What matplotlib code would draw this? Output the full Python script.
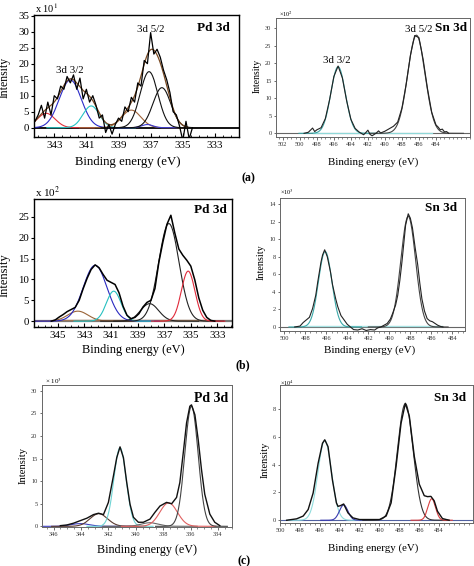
import numpy as np
import matplotlib.pyplot as plt
from matplotlib.ticker import MultipleLocator

plt.rcParams['font.family'] = ['Liberation Serif', 'DejaVu Serif']
plt.rcParams['mathtext.fontset'] = 'stix'

W, H = 474, 566

# ---------- (a) Pd 3d : raw counts (x10^1) ----------
pd_a_ev = [344.2, 344.0, 343.8, 343.6, 343.4, 343.2, 343.0, 342.8, 342.6, 342.4,
           342.2, 342.0, 341.8, 341.6, 341.4, 341.2, 341.0, 340.8, 340.6, 340.4,
           340.2, 340.0, 339.8, 339.6, 339.4, 339.2, 339.0, 338.8, 338.6, 338.4,
           338.2, 338.0, 337.8, 337.6, 337.4, 337.2, 337.0, 336.8, 336.6, 336.4,
           336.2, 336.0, 335.8, 335.6, 335.4, 335.2, 335.0, 334.8, 334.6, 334.4]
pd_a_int = [2, 4, 7, 3, 8, 4, 10, 9, 13, 12,
            16, 14, 16.5, 12, 15.5, 9, 12, 8, 10, 7,
            3, 4, -1.5, 1, -2, 1, 3, 2, 6.5, 5,
            9.5, 8, 14, 13, 21, 20, 29.7, 23, 24.5, 22,
            18, 15, 11, 5, 4, 0.5, -4, 2, -3.5, 0]
pd_a_centers = [343.5, 342.0, 340.7, 338.2, 337.2, 337.1, 336.3]
pd_a_heights = [4.5, 14.9, 6.8, 5.5, 1.0, 17.5, 12.5]
pd_a_fwhm = [1.3, 1.6, 1.2, 1.4, 0.8, 1.3, 1.3]
pd_a_xticks = [343, 341, 339, 337, 335, 333]
pd_a_yticks = [0, 5, 10, 15, 20, 25, 30, 35]

# ---------- (a) Sn 3d (x10^2) ----------
sn_a_ev = [499.5, 499.0, 498.75, 498.5, 498.25, 498.0, 497.5, 497.0, 496.5, 496.0,
           495.5, 495.0, 494.5, 494.0, 493.5, 493.0, 492.5, 492.25, 492.0, 491.75,
           491.5, 491.0, 490.75, 490.5, 490.0, 489.5, 489.0, 488.5, 488.0, 487.5,
           487.0, 486.5, 486.0, 485.5, 485.0, 484.5, 484.0, 483.75, 483.5, 483.25,
           483.0, 482.75, 482.5]
sn_a_int = [0, 0.3, 0.9, 1.5, 0.5, 1.0, 1.6, 4.2, 9.6, 16.2,
            19.2, 15.8, 9.3, 4.0, 1.4, 0.3, -0.4, 0.2, 0.9, -0.3,
            -0.7, 0.1, 0.7, 0.1, 0.6, 1.3, 2.0, 3.2, 7.2, 14.0,
            22.3, 27.9, 27.3, 21.0, 12.8, 6.0, 2.4, 1.8, 1.0, 1.2,
            0.4, 0.5, 0]
sn_a_centers = [495.5, 486.3]
sn_a_heights = [19.0, 28.0]
sn_a_fwhm = [2.0, 2.4]
sn_a_xticks = [502, 500, 498, 496, 494, 492, 490, 488, 486, 484]
sn_a_yticks = [0, 5, 10, 15, 20, 25, 30]

# ---------- (b) Pd 3d (x10^2) ----------
pd_b_ev = [345.5, 345.2, 344.9, 344.6, 344.3, 344.0, 343.7, 343.4, 343.1, 342.8,
           342.5, 342.2, 341.9, 341.6, 341.3, 341.0, 340.7, 340.4, 340.1, 339.8,
           339.5, 339.2, 338.9, 338.6, 338.3, 338.0, 337.7, 337.4, 337.1, 336.8,
           336.5, 336.2, 335.9, 335.6, 335.3, 335.0, 334.7, 334.4, 334.1, 333.8,
           333.5, 333.2]
pd_b_int = [0.0, 0.3, 1.0, 1.6, 2.3, 2.8, 3.3, 5.0, 7.8, 10.3,
            12.4, 13.5, 12.8, 11.2, 9.8, 9.3, 8.8, 6.8, 3.6, 1.4,
            0.6, 0.9, 1.8, 3.4, 4.5, 5.0, 7.8, 14.2, 19.0, 23.2,
            25.4, 21.1, 17.3, 15.8, 14.6, 13.2, 9.9, 5.6, 2.6, 0.9,
            0.2, 0.0]
pd_b_centers = [343.5, 342.2, 340.8, 338.1, 336.65, 335.2]
pd_b_heights = [2.4, 13.4, 7.2, 4.2, 23.4, 12.0]
pd_b_fwhm = [1.8, 2.1, 1.3, 1.6, 1.8, 1.2]
pd_b_xticks = [345, 343, 341, 339, 337, 335, 333]
pd_b_yticks = [0, 5, 10, 15, 20, 25]

# ---------- (b) Sn 3d (x10^3) ----------
sn_b_ev = [499.0, 498.5, 498.2, 497.9, 497.6, 497.3, 497.0, 496.8, 496.5, 496.35,
           496.15, 495.9, 495.6, 495.4, 495.1, 494.9, 494.6, 494.3, 494.0, 493.7,
           493.4, 493.0, 492.6, 492.2, 491.8, 491.4, 491.1, 490.8, 490.5, 490.2,
           489.9, 489.7, 489.4, 489.2, 489.0, 488.8, 488.6, 488.45, 488.2, 488.0,
           487.8, 487.55, 487.3, 487.1, 486.9, 486.65, 486.4, 486.15, 485.9, 485.65,
           485.4, 485.1, 484.9]
sn_b_int = [0.0, 0.1, 0.5, 0.8, 1.1, 2.1, 3.6, 5.2, 7.4, 8.2,
            8.8, 8.0, 6.3, 4.8, 3.2, 2.3, 1.3, 0.8, 0.3, 0.0,
            -0.3, -0.35, -0.2, -0.4, -0.3, -0.35, -0.1, 0.0, 0.2, 0.4,
            0.9, 1.5, 2.5, 3.6, 5.3, 7.4, 9.8, 11.6, 12.9, 12.4,
            11.3, 9.1, 7.1, 5.0, 3.2, 1.8, 0.95, 0.7, 0.6, 0.4,
            0.2, 0.05, 0.0]
sn_b_centers = [496.1, 488.2]
sn_b_heights = [8.6, 12.6]
sn_b_fwhm = [1.5, 1.65]
sn_b_xticks = [500, 498, 496, 494, 492, 490, 488, 486, 484]
sn_b_yticks = [0, 2, 4, 6, 8, 10, 12, 14]

# ---------- (c) Pd 3d (x10^3) ----------
pd_c_ev = [345.51, 345.03, 344.54, 344.06, 343.57, 343.09, 342.72, 342.36, 342.0, 341.63,
           341.39, 341.15, 340.9, 340.66, 340.42, 340.17, 339.81, 339.45, 338.96, 338.6,
           338.23, 337.75, 337.38, 337.02, 336.78, 336.53, 336.29, 336.05, 335.93, 335.68,
           335.44, 335.2, 334.96, 334.59, 334.23, 333.86]
pd_c_int = [0.15, 0.3, 0.7, 1.25, 1.8, 2.6, 2.9, 2.6, 5.3, 11.2,
            15.2, 17.6, 15.2, 9.7, 4.9, 2.0, 0.9, 0.9, 1.6, 3.1,
            4.5, 5.3, 5.0, 6.4, 9.7, 16.3, 22.9, 26.6, 26.9, 24.7,
            19.2, 12.6, 7.1, 2.7, 0.9, 0.15]
pd_c_centers = [344.06, 342.7, 341.15, 338.96, 337.6, 335.93]
pd_c_heights = [0.6, 2.8, 17.4, 0.8, 5.2, 26.6]
pd_c_fwhm = [1.6, 1.5, 1.05, 1.5, 1.5, 1.14]
pd_c_xticks = [346, 344, 342, 340, 338, 336, 334]
pd_c_yticks = [0, 5, 10, 15, 20, 25, 30]

# ---------- (c) Sn 3d (x10^4) ----------
sn_c_ev = [499.33, 498.33, 497.67, 497.17, 496.67, 496.17, 495.73, 495.5, 495.17, 494.73,
           494.33, 494.17, 493.93, 493.6, 493.17, 492.67, 492.0, 490.0, 489.33, 488.83,
           488.33, 487.83, 487.4, 487.0, 486.5, 486.0, 485.5, 485.17, 484.83, 484.5,
           484.17, 483.67, 483.0]
sn_c_int = [0.0, 0.1, 0.3, 0.77, 1.96, 4.1, 5.55, 5.8, 5.3, 2.9,
            1.25, 1.0, 1.05, 1.17, 0.53, 0.17, 0.05, 0.05, 0.3, 1.25,
            3.9, 7.0, 8.43, 7.5, 4.6, 2.6, 1.77, 1.7, 1.72, 1.4,
            0.65, 0.12, 0.0]
sn_c_centers = [495.5, 493.6, 487.4, 484.75]
sn_c_heights = [5.75, 1.1, 8.4, 1.55]
sn_c_fwhm = [1.6, 1.0, 1.85, 0.9]
sn_c_xticks = [500, 498, 496, 494, 492, 490, 488, 486, 484]
sn_c_yticks = [0, 2, 4, 6, 8]


def gauss(x, c, h, w):
    s = w / 2.3548
    return h * np.exp(-(x - c) ** 2 / (2 * s * s))


def px_ax(l, t, r, b):
    return [l / W, 1 - b / H, (r - l) / W, (b - t) / H]


def ftext(x, y, s, **kw):
    fig.text(x / W, 1 - y / H, s, **kw)


def components(ax, centers, heights, widths, colors, xlim, lw=0.8):
    lo, hi = min(xlim), max(xlim)
    for c, h, w, col in zip(centers, heights, widths, colors):
        x = np.linspace(max(c - 2.3 * w, lo), min(c + 2.3 * w, hi), 200)
        ax.plot(x, gauss(x, c, h, w), color=col, lw=lw)


def style(ax, xlim, ylim, xticks, yticks, big, spine_col):
    ax.set_xlim(xlim)
    ax.set_ylim(ylim)
    ax.set_xticks(xticks)
    ax.set_yticks(yticks)
    ax.xaxis.set_minor_locator(MultipleLocator(0.5))
    for s in ax.spines.values():
        s.set_color(spine_col)
        s.set_linewidth(1.0 if big else 0.7)
    if big:
        ax.tick_params(axis='x', which='both', direction='in', labelsize=7.8, pad=3)
        ax.tick_params(axis='x', which='major', length=3, width=0.8)
        ax.tick_params(axis='x', which='minor', length=1.8, width=0.6)
        ax.tick_params(axis='y', direction='out', length=2.5, labelsize=7.8, pad=1)
    else:
        ax.tick_params(axis='x', which='both', direction='out', labelsize=4.6, pad=1.5,
                       colors='#333333')
        ax.tick_params(axis='x', which='major', length=2, width=0.5)
        ax.tick_params(axis='x', which='minor', length=1.2, width=0.4)
        ax.tick_params(axis='y', direction='out', length=1.8, width=0.5, labelsize=4.6,
                       pad=1.5, colors='#333333')


fig = plt.figure(figsize=(W / 100, H / 100), dpi=100)

# ---- (a) Pd 3d ----
ax = fig.add_axes(px_ax(34, 15, 239, 137))
xl = (344.26, 331.5)
ax.axhline(0, color='black', lw=1.3, zorder=1)
cols = ['#e0303a', '#2a2ac8', '#26c4c4', '#a0643a', '#3a3ad0', '#111111', '#111111']
components(ax, pd_a_centers, pd_a_heights, pd_a_fwhm, cols, xl)
xe = np.linspace(344.26, 334.7, 500)
env = sum(gauss(xe, c, h, w) for c, h, w in zip(pd_a_centers, pd_a_heights, pd_a_fwhm))
ax.plot(xe, env, color='#7a4a22', lw=0.9)
ax.plot(pd_a_ev, pd_a_int, color='black', lw=0.9)
style(ax, xl, (-2.9, 35.2), pd_a_xticks, pd_a_yticks, True, 'black')
ax.text(342.0, 18.0, '3d 3/2', ha='center', va='center', fontsize=7.8)
ax.text(337.0, 30.6, '3d 5/2', ha='center', va='center', fontsize=7.8)
ax.text(0.955, 0.89, 'Pd 3d', transform=ax.transAxes, ha='right', va='center',
        fontsize=9.5, fontweight='bold')

# ---- (a) Sn 3d ----
ax = fig.add_axes(px_ax(276, 18, 470, 137))
xl = (502.8, 480.0)
ax.axhline(0, color='#666666', lw=0.8, zorder=1)
ax.plot([498.5, 484.5], [0.08, 0.08], color='#8fd8d8', lw=0.9)
components(ax, sn_a_centers, sn_a_heights, sn_a_fwhm, ['#3aa3a3', '#444444'], xl)
ax.plot(sn_a_ev, sn_a_int, color='#222222', lw=0.8)
style(ax, xl, (-1.05, 32.9), sn_a_xticks, sn_a_yticks, False, '#666666')
ax.text(495.6, 20.9, '3d 3/2', ha='center', va='center', fontsize=7.8)
ax.text(486.0, 29.6, '3d 5/2', ha='center', va='center', fontsize=7.8)
ax.text(0.985, 0.915, 'Sn 3d', transform=ax.transAxes, ha='right', va='center',
        fontsize=9.5, fontweight='bold')

# ---- (b) Pd 3d ----
ax = fig.add_axes(px_ax(34, 199, 232, 327))
xl = (346.8, 331.9)
ax.axhline(0, color='#777777', lw=1.6, zorder=1)
ax.plot([345.3, 333.6], [0.25, 0.25], color='#a07858', lw=1.0)
cols = ['#9a6438', '#2a2ac0', '#26c0c0', '#222222', '#222222', '#e02a3a']
components(ax, pd_b_centers, pd_b_heights, pd_b_fwhm, cols, xl)
ax.plot(pd_b_ev, pd_b_int, color='black', lw=1.1)
style(ax, xl, (-1.4, 29.3), pd_b_xticks, pd_b_yticks, True, 'black')
ax.text(0.975, 0.915, 'Pd 3d', transform=ax.transAxes, ha='right', va='center',
        fontsize=9.5, fontweight='bold')

# ---- (b) Sn 3d ----
ax = fig.add_axes(px_ax(280, 198, 465, 331))
xl = (500.4, 482.8)
ax.axhline(0, color='#666666', lw=0.8, zorder=1)
ax.plot([498.3, 485.0], [0.12, 0.12], color='#a6e2e2', lw=1.0)
components(ax, sn_b_centers, sn_b_heights, sn_b_fwhm, ['#3aa8a8', '#444444'], xl)
ax.plot(sn_b_ev, sn_b_int, color='#222222', lw=0.8)
style(ax, xl, (-0.46, 14.7), sn_b_xticks, sn_b_yticks, False, '#666666')
ax.text(0.96, 0.925, 'Sn 3d', transform=ax.transAxes, ha='right', va='center',
        fontsize=9.5, fontweight='bold')

# ---- (c) Pd 3d ----
ax = fig.add_axes(px_ax(42, 385, 232, 527))
xl = (346.85, 332.97)
cols = ['#4040c0', '#5a3a30', '#6fd4d4', '#666666', '#e06060', '#444444']
components(ax, pd_c_centers, pd_c_heights, pd_c_fwhm, cols, xl)
ax.plot(pd_c_ev, pd_c_int, color='#111111', lw=1.0)
style(ax, xl, (-0.15, 31.3), pd_c_xticks, pd_c_yticks, False, '#666666')
ax.text(0.98, 0.905, 'Pd 3d', transform=ax.transAxes, ha='right', va='center',
        fontsize=10, fontweight='bold')

# ---- (c) Sn 3d ----
ax = fig.add_axes(px_ax(280, 385, 473, 523))
xl = (500.0, 480.6)
ax.axhline(0, color='#5060a0', lw=0.8, zorder=1)
cols = ['#8fdcdc', '#3a3ab0', '#333333', '#d84040']
components(ax, sn_c_centers, sn_c_heights, sn_c_fwhm, cols, xl)
ax.plot(sn_c_ev, sn_c_int, color='#111111', lw=1.0)
style(ax, xl, (-0.2, 9.75), sn_c_xticks, sn_c_yticks, False, '#666666')
ax.text(0.965, 0.905, 'Sn 3d', transform=ax.transAxes, ha='right', va='center',
        fontsize=9.5, fontweight='bold')

# axis labels and multipliers
ftext(128, 162, 'Binding energy (eV)', ha='center', va='center', fontsize=9.2)
ftext(373, 162, 'Binding energy (eV)', ha='center', va='center', fontsize=7.8)
ftext(133, 350, 'Binding energy (eV)', ha='center', va='center', fontsize=9.0)
ftext(370, 350, 'Binding energy (eV)', ha='center', va='center', fontsize=7.9)
ftext(147, 550, 'Binding energy (eV)', ha='center', va='center', fontsize=8.7)
ftext(373, 548, 'Binding energy (eV)', ha='center', va='center', fontsize=7.8)

ftext(5, 77, 'Intensity', rotation=90, ha='center', va='center', fontsize=8.5)
ftext(257, 76, 'Intensity', rotation=90, ha='center', va='center', fontsize=7.0)
ftext(5, 275, 'Intensity', rotation=90, ha='center', va='center', fontsize=9.0)
ftext(261, 262, 'Intensity', rotation=90, ha='center', va='center', fontsize=7.3)
ftext(23, 465, 'Intensity', rotation=90, ha='center', va='center', fontsize=7.6)
ftext(265, 460, 'Intensity', rotation=90, ha='center', va='center', fontsize=7.5)

ftext(35, 8, 'x 10$^1$', ha='left', va='center', fontsize=7.5)
ftext(279, 14, '×10$^2$', ha='left', va='center', fontsize=4.5)
ftext(35, 192, 'x 10$^2$', ha='left', va='center', fontsize=8.0)
ftext(280, 192, '×10$^3$', ha='left', va='center', fontsize=4.5)
ftext(45, 381, '× 10$^3$', ha='left', va='center', fontsize=5.0)
ftext(280, 383, '×10$^4$', ha='left', va='center', fontsize=4.5)

ftext(248, 178, '(a)', ha='center', va='center', fontsize=8.5, fontweight='bold')
ftext(243, 365, '(b)', ha='center', va='center', fontsize=8.5, fontweight='bold')
ftext(244, 561, '(c)', ha='center', va='center', fontsize=8.5, fontweight='bold')

fig.savefig('out.png', dpi=100)
